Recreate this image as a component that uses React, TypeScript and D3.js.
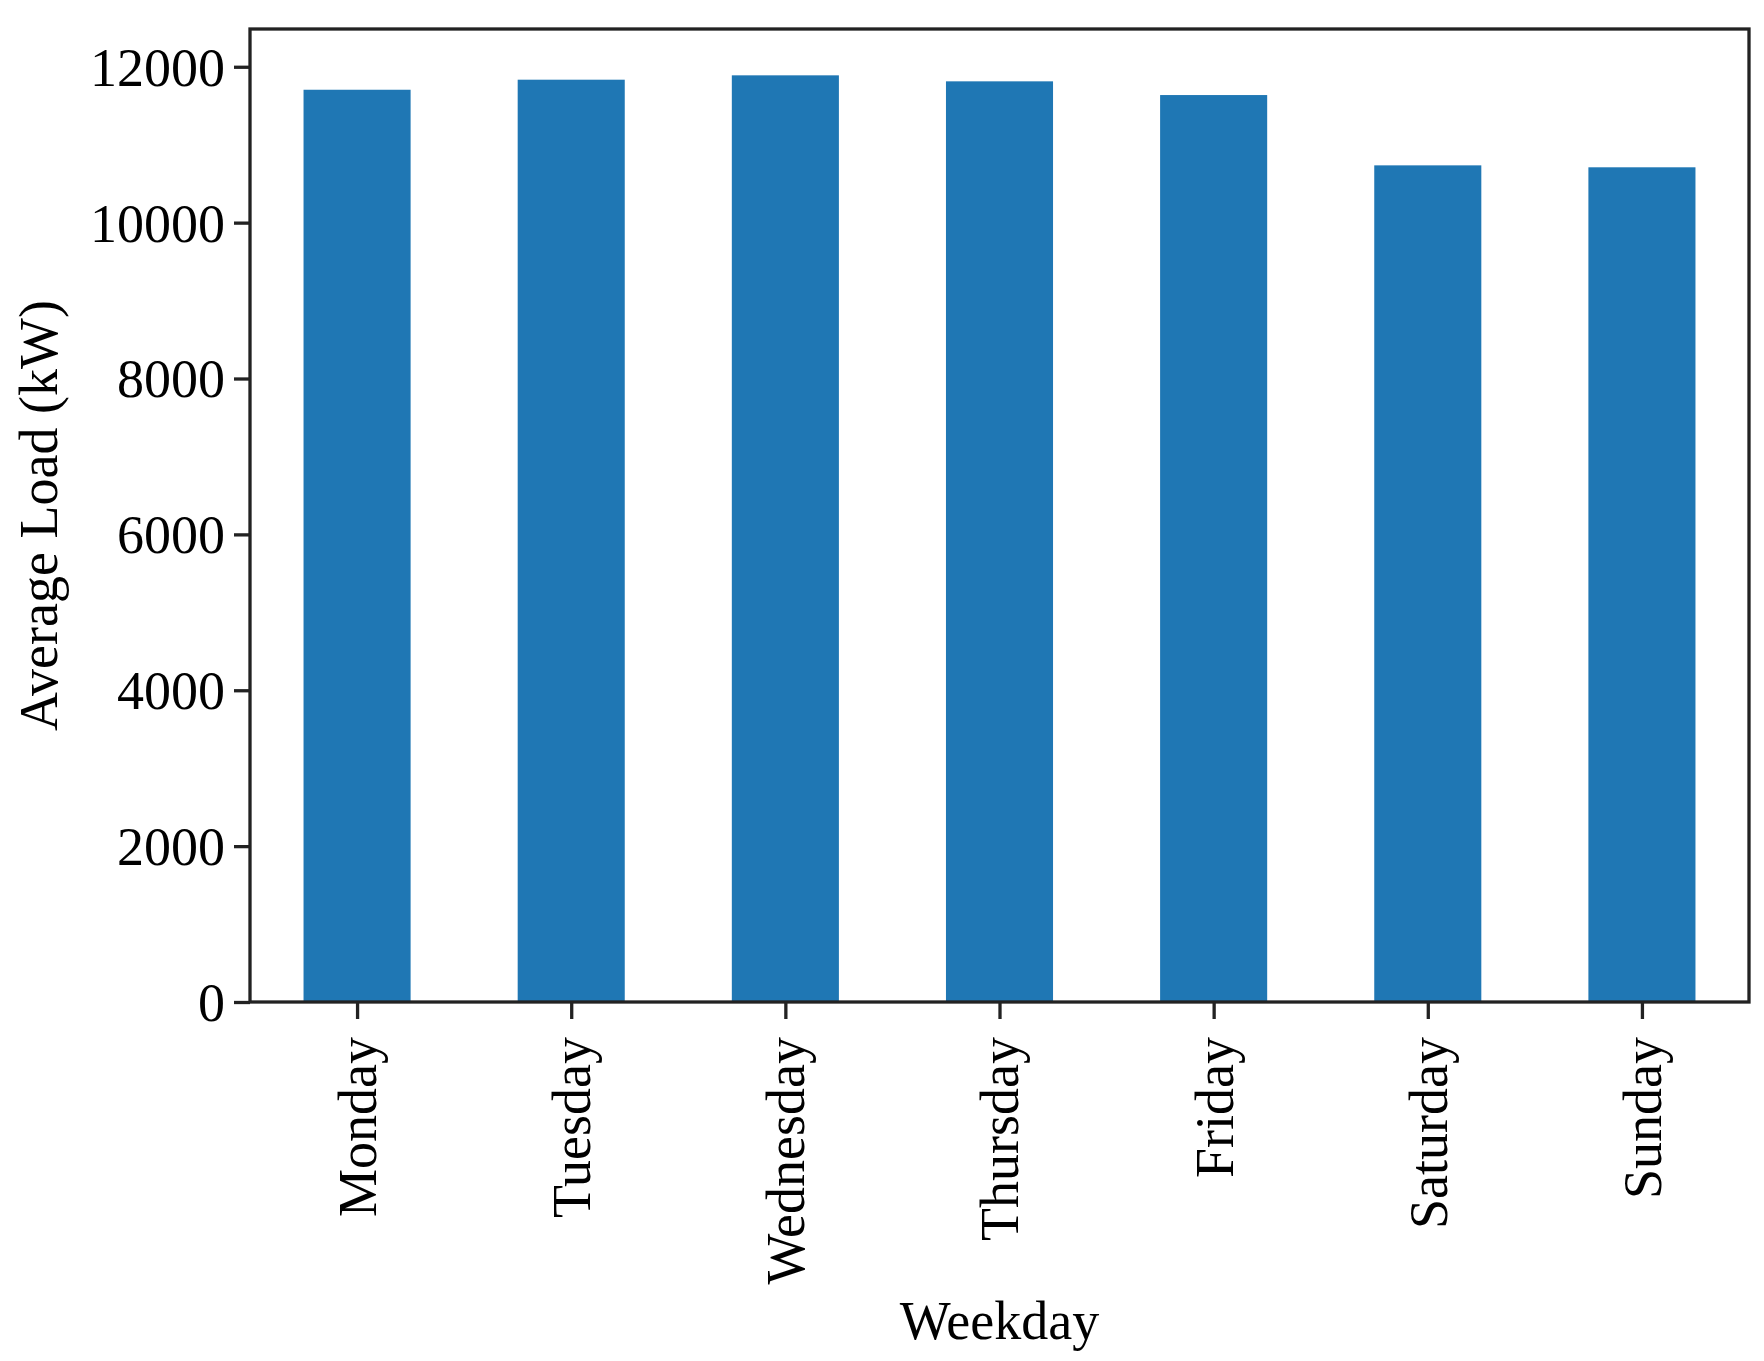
import { useEffect, useRef } from "react";
import * as d3 from "d3";

const weekdays = [
  "Monday",
  "Tuesday",
  "Wednesday",
  "Thursday",
  "Friday",
  "Saturday",
  "Sunday",
];
const averageLoad = [11705, 11834, 11890, 11813, 11637, 10735, 10710];
const yTicks = [0, 2000, 4000, 6000, 8000, 10000, 12000];

const width = 1764;
const height = 1361;
const margin = { top: 29, right: 15, bottom: 359, left: 250 };
const font = "'Liberation Serif', 'Times New Roman', serif";
const fontSize = 54;

export default function App() {
  const svgRef = useRef<SVGSVGElement>(null);

  useEffect(() => {
    document.body.style.margin = "0";
    if (!svgRef.current) return;
    const svg = d3.select(svgRef.current);
    svg.selectAll("*").remove();

    const x0 = margin.left;
    const x1 = width - margin.right;
    const y0 = height - margin.bottom;
    const y1 = margin.top;

    // pandas-style bar positions: xlim -0.5 .. n-0.5, bar width 0.5
    const x = d3
      .scaleLinear()
      .domain([-0.5, weekdays.length - 0.5])
      .range([x0, x1]);

    const yMax = (d3.max(averageLoad) || 0) * 1.05;
    const y = d3.scaleLinear().domain([0, yMax]).range([y0, y1]);

    const barW = x(0.5) - x(0);

    svg
      .append("g")
      .selectAll("rect")
      .data(averageLoad)
      .join("rect")
      .attr("x", (_, i) => x(i) - barW / 2)
      .attr("y", (d) => y(d))
      .attr("width", barW)
      .attr("height", (d) => y(0) - y(d))
      .attr("fill", "#1f77b4");

    // frame
    svg
      .append("rect")
      .attr("x", x0)
      .attr("y", y1)
      .attr("width", x1 - x0)
      .attr("height", y0 - y1)
      .attr("fill", "none")
      .attr("stroke", "#222")
      .attr("stroke-width", 3.3);

    // y axis
    const yAxis = svg
      .append("g")
      .attr("transform", `translate(${x0},0)`)
      .call(
        d3
          .axisLeft(y)
          .tickValues(yTicks)
          .tickSize(16)
          .tickPadding(9)
          .tickFormat((d) => String(d))
      );
    yAxis.select(".domain").remove();
    yAxis.selectAll(".tick line").attr("stroke", "#222").attr("stroke-width", 3.3);
    yAxis
      .selectAll(".tick text")
      .attr("font-family", font)
      .attr("font-size", fontSize)
      .attr("fill", "#000")
      .attr("dy", "0.34em");

    // x axis
    const xAxis = svg
      .append("g")
      .attr("transform", `translate(0,${y0})`)
      .call(
        d3
          .axisBottom(x)
          .tickValues(weekdays.map((_, i) => i))
          .tickSize(17)
          .tickFormat((_, i) => weekdays[i])
      );
    xAxis.select(".domain").remove();
    xAxis.selectAll(".tick line").attr("stroke", "#222").attr("stroke-width", 3.3);
    xAxis
      .selectAll(".tick text")
      .attr("font-family", font)
      .attr("font-size", fontSize)
      .attr("fill", "#000")
      .attr("text-anchor", "end")
      .attr("y", 0)
      .attr("dy", "0.34em")
      .attr("transform", "translate(0,35) rotate(-90)");

    // axis labels
    svg
      .append("text")
      .attr("x", (x0 + x1) / 2)
      .attr("y", 1339)
      .attr("text-anchor", "middle")
      .attr("font-family", font)
      .attr("font-size", fontSize)
      .attr("fill", "#000")
      .text("Weekday");

    svg
      .append("text")
      .attr("transform", `translate(57,${(y0 + y1) / 2}) rotate(-90)`)
      .attr("text-anchor", "middle")
      .attr("font-family", font)
      .attr("font-size", fontSize)
      .attr("fill", "#000")
      .text("Average Load (kW)");
  }, []);

  return <svg ref={svgRef} width={width} height={height} style={{ display: "block" }}></svg>;
}
